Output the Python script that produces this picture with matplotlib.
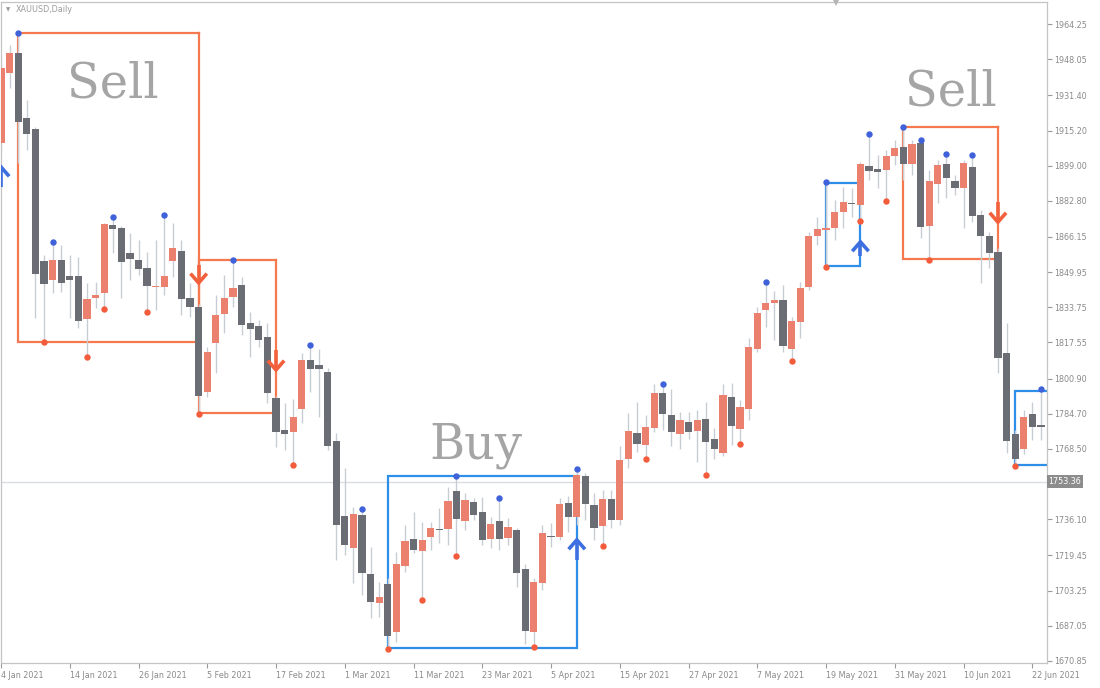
import matplotlib
matplotlib.use("Agg")
import matplotlib.pyplot as plt
from matplotlib.transforms import blended_transform_factory

# XAUUSD daily candles, 4 Jan 2021 .. 23 Jun 2021 (bar index = trading day)
opens = [1909.3, 1941.8, 1950.8, 1920.8, 1915.7, 1855.1, 1846.3, 1855.5, 1848.2, 1848.2,
         1828.4, 1838.2, 1840.2, 1871.8, 1870.3, 1858.6, 1855.5, 1852.0, 1843.0, 1843.0,
         1855.2, 1859.8, 1837.9, 1834.0, 1794.9, 1817.5, 1830.7, 1838.4, 1844.0, 1826.4,
         1825.3, 1819.9, 1792.1, 1777.2, 1776.5, 1786.8, 1809.5, 1807.2, 1804.1, 1772.3,
         1737.6, 1723.0, 1738.1, 1710.9, 1697.4, 1706.3, 1684.1, 1714.7, 1726.9, 1721.7,
         1727.8, 1731.8, 1731.6, 1749.2, 1735.3, 1744.1, 1739.6, 1726.9, 1735.3, 1727.4,
         1731.2, 1713.1, 1684.1, 1706.9, 1728.6, 1728.1, 1743.6, 1737.0, 1756.1, 1742.7,
         1733.0, 1745.6, 1735.8, 1763.7, 1775.7, 1770.3, 1778.0, 1794.1, 1784.2, 1775.4,
         1781.1, 1776.9, 1782.3, 1773.0, 1766.5, 1792.6, 1777.7, 1786.8, 1814.4, 1832.5,
         1835.6, 1837.1, 1814.4, 1826.9, 1843.3, 1866.6, 1869.4, 1870.1, 1877.8, 1882.0,
         1880.9, 1899.0, 1897.3, 1897.0, 1903.6, 1907.5, 1899.8, 1909.3, 1871.3, 1890.4,
         1899.6, 1892.1, 1888.9, 1898.5, 1876.3, 1866.6, 1859.4, 1812.8, 1775.3, 1768.5,
         1784.5, 1779.7]
highs = [1946.7, 1954.6, 1959.2, 1929.2, 1916.8, 1857.9, 1862.9, 1862.5, 1857.9, 1856.9,
         1845.0, 1845.6, 1872.6, 1874.4, 1871.2, 1867.8, 1864.8, 1859.4, 1864.8, 1875.4,
         1872.6, 1864.8, 1845.0, 1835.3, 1815.6, 1839.4, 1848.6, 1854.6, 1847.9, 1831.7,
         1827.9, 1826.7, 1792.9, 1789.5, 1791.4, 1812.7, 1815.5, 1814.6, 1805.8, 1776.0,
         1759.7, 1741.8, 1739.9, 1723.5, 1707.4, 1709.1, 1721.2, 1733.5, 1739.6, 1735.0,
         1735.0, 1741.3, 1751.1, 1755.1, 1748.2, 1745.9, 1746.5, 1737.3, 1745.0, 1736.7,
         1732.1, 1715.5, 1709.1, 1733.5, 1734.4, 1745.9, 1746.8, 1758.4, 1757.4, 1748.2,
         1749.6, 1749.6, 1769.9, 1784.9, 1790.3, 1784.2, 1798.4, 1797.5, 1796.0, 1785.7,
         1785.4, 1786.5, 1790.3, 1778.0, 1798.4, 1799.0, 1791.1, 1819.5, 1834.0, 1844.5,
         1841.4, 1844.0, 1829.4, 1845.6, 1868.6, 1875.5, 1890.6, 1883.2, 1889.3, 1888.7,
         1900.7, 1912.7, 1903.9, 1906.2, 1910.8, 1916.1, 1910.8, 1909.9, 1897.0, 1901.6,
         1903.4, 1894.7, 1901.6, 1902.8, 1878.6, 1868.6, 1861.1, 1826.4, 1777.2, 1786.5,
         1790.3, 1795.2]
lows = [1906.2, 1934.6, 1900.2, 1906.2, 1828.8, 1818.7, 1840.3, 1840.8, 1828.8, 1824.2,
        1811.8, 1833.4, 1833.9, 1858.8, 1838.0, 1846.3, 1848.6, 1832.5, 1832.5, 1839.4,
        1847.9, 1830.2, 1829.4, 1785.5, 1792.6, 1803.4, 1821.8, 1834.0, 1821.0, 1810.7,
        1815.6, 1789.5, 1769.6, 1768.0, 1762.0, 1780.5, 1794.9, 1783.4, 1768.0, 1717.4,
        1719.7, 1706.8, 1701.2, 1690.5, 1691.3, 1677.3, 1679.7, 1712.0, 1720.6, 1699.9,
        1722.0, 1725.2, 1724.3, 1720.1, 1731.2, 1735.8, 1724.3, 1722.8, 1722.0, 1724.3,
        1705.1, 1678.7, 1678.4, 1703.5, 1723.5, 1726.6, 1730.4, 1733.5, 1735.8, 1726.6,
        1724.7, 1732.1, 1733.5, 1759.6, 1767.3, 1764.8, 1776.5, 1777.2, 1769.9, 1768.4,
        1773.0, 1762.6, 1757.4, 1763.7, 1765.3, 1770.3, 1771.7, 1781.9, 1813.2, 1824.8,
        1818.7, 1813.3, 1809.9, 1819.5, 1841.7, 1862.5, 1853.2, 1864.8, 1870.1, 1875.5,
        1874.4, 1892.4, 1888.6, 1883.6, 1899.3, 1892.4, 1894.7, 1865.5, 1856.5, 1881.8,
        1884.0, 1885.5, 1870.1, 1873.1, 1844.8, 1851.7, 1803.4, 1766.8, 1761.6, 1766.2,
        1772.6, 1772.6]
closes = [1943.8, 1950.8, 1919.1, 1913.6, 1849.1, 1844.4, 1855.5, 1844.8, 1846.3, 1827.4,
          1837.7, 1839.6, 1872.0, 1870.0, 1854.5, 1855.9, 1851.3, 1843.7, 1843.6, 1848.2,
          1861.1, 1837.4, 1834.0, 1792.9, 1813.3, 1830.2, 1838.2, 1842.6, 1825.6, 1823.9,
          1818.7, 1794.1, 1776.5, 1775.4, 1783.4, 1809.5, 1805.3, 1805.2, 1770.0, 1733.5,
          1724.3, 1738.6, 1711.5, 1698.0, 1700.5, 1682.4, 1715.4, 1726.3, 1722.0, 1726.6,
          1732.1, 1731.2, 1744.7, 1736.3, 1745.0, 1738.1, 1726.6, 1733.8, 1727.0, 1732.7,
          1711.5, 1684.7, 1707.4, 1729.7, 1728.0, 1743.2, 1737.2, 1756.5, 1743.2, 1732.0,
          1745.3, 1735.8, 1763.4, 1776.8, 1770.7, 1778.8, 1794.1, 1784.5, 1776.5, 1781.9,
          1776.5, 1781.9, 1771.9, 1768.4, 1793.4, 1779.1, 1787.7, 1815.6, 1831.3, 1835.6,
          1837.1, 1815.9, 1827.4, 1842.5, 1866.7, 1869.8, 1870.4, 1877.8, 1882.4, 1881.3,
          1899.6, 1896.7, 1896.2, 1903.4, 1907.0, 1899.6, 1909.0, 1870.6, 1891.9, 1899.2,
          1893.2, 1888.9, 1900.1, 1876.0, 1866.6, 1858.6, 1810.3, 1772.3, 1763.9, 1783.1,
          1778.5, 1778.5]

# fractal dots (bar indexes)
up_fractals = [2, 6, 13, 19, 27, 36, 42, 53, 58, 67, 77, 89, 96, 101, 105, 107, 110, 113, 121]
down_fractals = [5, 10, 12, 17, 23, 34, 45, 49, 53, 62, 70, 75, 82, 86, 92, 96, 100, 103, 108, 118]

# signal boxes
box_kind = ["sell", "sell", "buy", "buy", "sell", "buy"]
box_start = [2, 23, 45, 96, 105, 118]
box_end = [23, 32, 67, 100, 116, 124]
box_top = [1960.1, 1855.5, 1756.1, 1890.9, 1916.9, 1795.2]
box_bottom = [1817.8, 1785.2, 1676.8, 1852.8, 1856.0, 1761.0]

# signal arrows
arrow_x = [0, 23, 32, 67, 100, 116]
arrow_tip = [1898.4, 1845.0, 1804.9, 1726.6, 1863.9, 1873.0]
arrow_tail = [1889.2, 1853.2, 1814.1, 1717.4, 1857.6, 1882.3]

# big labels
label_text = ["Sell", "Buy", "Sell"]
label_x = [13.0, 55.3, 110.55]
label_y = [1930.2, 1764.3, 1926.5]

price_ticks = [1964.25, 1948.05, 1931.40, 1915.20, 1899.00, 1882.80, 1866.15, 1849.95,
               1833.75, 1817.55, 1800.90, 1784.70, 1768.50, 1736.10, 1719.45, 1703.25,
               1687.05, 1670.85]
date_labels = ["4 Jan 2021", "14 Jan 2021", "26 Jan 2021", "5 Feb 2021", "17 Feb 2021",
               "1 Mar 2021", "11 Mar 2021", "23 Mar 2021", "5 Apr 2021", "15 Apr 2021",
               "27 Apr 2021", "7 May 2021", "19 May 2021", "31 May 2021", "10 Jun 2021",
               "22 Jun 2021"]
date_pos = [8 * i for i in range(len(date_labels))]
current_price = 1753.36

BULL = "#EC806E"
BEAR = "#6A6D74"
WICK = "#C8CCD3"
ORANGE = "#F6784F"
BLUE = "#2E8FE8"
DOT_BLUE = "#3F62DA"
DOT_RED = "#F25C3C"
GRAY_TXT = "#8A8A8A"

fig = plt.figure(figsize=(11, 6.88), dpi=100)
fig.patch.set_facecolor("white")
ax = fig.add_axes([1 / 1100, 25 / 688, 1046 / 1100, 661 / 688])
ax.set_xlim(0.08, 121.71)
ax.set_ylim(1669.9, 1974.4)

# current price line
ax.axhline(current_price, color="#DADDE2", lw=1.0, zorder=0.5)

# boxes
for k, s, e, t, b in zip(box_kind, box_start, box_end, box_top, box_bottom):
    c = ORANGE if k == "sell" else BLUE
    ax.plot([e, s, s, e, e], [t, t, b, b, t], color=c, lw=1.6, zorder=1,
            solid_joinstyle="miter")

# candles
n = len(opens)
x = list(range(n))
ax.vlines(x, lows, highs, color=WICK, lw=1.0, zorder=2)
colors = [BULL if c >= o else BEAR for o, c in zip(opens, closes)]
bottoms = [min(o, c) for o, c in zip(opens, closes)]
heights = [max(abs(c - o), 0.6) for o, c in zip(opens, closes)]
ax.bar(x, heights, bottom=bottoms, width=0.84, color=colors, lw=0, zorder=3)

# fractal dots
ax.plot(up_fractals, [highs[i] + 0.9 for i in up_fractals], "o", color=DOT_BLUE,
        ms=4.6, mew=0, zorder=4)
ax.plot(down_fractals, [lows[i] - 0.9 for i in down_fractals], "o", color=DOT_RED,
        ms=4.6, mew=0, zorder=4)

# arrows
for ax_x, tip, tail in zip(arrow_x, arrow_tip, arrow_tail):
    c = "#F2603C" if tail > tip else "#3D6FE0"
    sgn = 1 if tail > tip else -1
    ax.plot([ax_x, ax_x], [tail, tip + sgn * 1.0], color=c, lw=2.6, zorder=5,
            solid_capstyle="butt")
    ax.plot([ax_x - 0.95, ax_x, ax_x + 0.95], [tip + sgn * 4.3, tip, tip + sgn * 4.3],
            color=c, lw=2.6, zorder=5, solid_joinstyle="miter", solid_capstyle="butt")

# labels
for t, lx, ly in zip(label_text, label_x, label_y):
    ax.text(lx, ly, t, fontsize=34.5, family="DejaVu Serif", color="#A5A5A5",
            ha="center", va="baseline", zorder=1.5)

# axes styling
for s in ax.spines.values():
    s.set_color("#C4C4C4")
    s.set_linewidth(0.9)
ax.yaxis.tick_right()
ax.set_yticks(price_ticks)
ax.set_yticklabels(["%.2f" % v for v in price_ticks])
ax.set_xticks(date_pos)
ax.set_xticklabels(date_labels)
plt.setp(ax.get_xticklabels(), ha="left")
ax.tick_params(axis="both", colors="#9A9A9A", labelcolor=GRAY_TXT, labelsize=5.8,
               length=3.5, width=0.8, direction="out")
ax.tick_params(axis="y", pad=1.5)
ax.tick_params(axis="x", pad=2.5)

# current price tag on the axis
trans = blended_transform_factory(ax.transAxes, ax.transData)
ax.text(1.0015, current_price, "1753.36", transform=trans, fontsize=5.8, color="white",
        ha="left", va="center", zorder=6,
        bbox=dict(boxstyle="square,pad=0.25", fc="#8C8C8C", ec="none"))

# chart title and shift marker
fig.text(6 / 1100, 1 - 10 / 688, "\u25BC", fontsize=4, color="#9A9A9A", va="center")
fig.text(16 / 1100, 1 - 10 / 688, "XAUUSD,Daily", fontsize=5.8, color="#9A9A9A", va="center")
ax.plot([0.798], [0.998], marker="v", ms=5, color="#B5B5B5", mew=0,
        transform=ax.transAxes, clip_on=False, zorder=6)

fig.savefig("out.png", dpi=100)
